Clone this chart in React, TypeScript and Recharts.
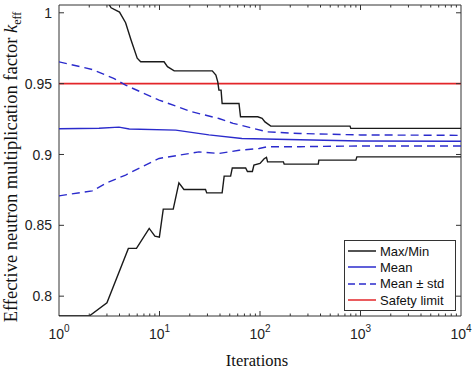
import { LineChart, Line, XAxis, YAxis, ReferenceLine, ReferenceArea, Legend } from "recharts"

// iterations (x) and k_eff values
const maxX = [1, 2.9, 3.3, 4.0, 4.6, 5.2, 6.0, 6.5, 11.1, 12, 14, 33.5, 36.4, 38, 39, 41, 42, 61.8, 64, 95, 105, 112, 128, 787, 800, 10000]
const maxK = [1.01, 1.01, 1.0035, 1.0005, 0.993, 0.981, 0.968, 0.9654, 0.9654, 0.962, 0.959, 0.959, 0.956, 0.9513, 0.9454, 0.9454, 0.936, 0.936, 0.9266, 0.9266, 0.9255, 0.923, 0.92, 0.92, 0.9184, 0.9184]

const minX = [1, 2.0, 3.0, 4.9, 5.9, 7.9, 9.0, 9.97, 10.9, 13.7, 15.6, 17.5, 28.7, 29.5, 42, 44, 51, 53, 72, 75, 84, 87, 100, 110, 116, 119, 171, 174, 380, 385, 900, 920, 10000]
const minK = [0.786, 0.786, 0.7953, 0.8337, 0.8337, 0.8478, 0.8424, 0.8417, 0.8614, 0.8614, 0.88, 0.8753, 0.8753, 0.8729, 0.8729, 0.8847, 0.8847, 0.8905, 0.8905, 0.888, 0.888, 0.8925, 0.8937, 0.897, 0.898, 0.8948, 0.8948, 0.8932, 0.8932, 0.896, 0.896, 0.8983, 0.8983]

const meanX = [1, 2.5, 3.95, 5, 14.5, 31, 66, 250, 1000, 10000]
const meanK = [0.9182, 0.9185, 0.9193, 0.918, 0.9172, 0.9138, 0.9113, 0.9104, 0.9095, 0.9093]

const upX = [1, 2.14, 3.5, 4.6, 9.9, 21, 39, 54, 117, 250, 1000, 10000]
const upK = [0.9654, 0.96, 0.9537, 0.9489, 0.9384, 0.9301, 0.9254, 0.922, 0.916, 0.9148, 0.9138, 0.9135]

const lowX = [1, 2.14, 3, 4.6, 9.9, 24.7, 39, 62, 98, 117, 250, 1000, 10000]
const lowK = [0.8708, 0.8743, 0.88, 0.8855, 0.8972, 0.9018, 0.9007, 0.903, 0.9042, 0.9054, 0.9055, 0.906, 0.906]

const SAFETY_LIMIT = 0.95

const decades = [1, 10, 100, 1000, 10000]
const yTicks = [0.8, 0.85, 0.9, 0.95, 1]
const legendNames = ["Max/Min", "Mean", "Mean \u00b1 std", "Safety limit"]

const X_DOMAIN = [1, 10000]
const Y_DOMAIN = [0.786, 1.0055]

const zip = (xs: number[], ks: number[]) => xs.map((x, i) => ({ x, k: ks[i] }))

const maxData = zip(maxX, maxK)
const minData = zip(minX, minK)
const meanData = zip(meanX, meanK)
const upData = zip(upX, upK)
const lowData = zip(lowX, lowK)

// minor ticks for the log axis
const xTicks = decades.flatMap((d) => (d < 10000 ? [d, 2, 3, 4, 5, 6, 7, 8, 9].map((m, i) => (i === 0 ? d : d * m)) : [d]))

const BLACK = "#1a1a1a"
const BLUE = "#2b2bcc"
const RED = "#e3262a"
const FRAME = "#333"
const SANS = "'Liberation Sans', Arial, sans-serif"
const SERIF = "'Liberation Serif', 'Times New Roman', serif"

const LEFT = 59
const RIGHT = 461
const TOP = 5
const BOTTOM = 316

function XTick(props: any) {
  const { x, payload } = props
  const v = payload.value as number
  const exp = Math.round(Math.log10(v))
  const major = Math.abs(Math.pow(10, exp) - v) < 1e-6
  const len = major ? 5 : 2.5
  const edge = v === 1 || v === 10000
  return (
    <g>
      {!edge && (
        <>
          <line x1={x} x2={x} y1={BOTTOM} y2={BOTTOM - len} stroke={FRAME} strokeWidth={1} />
          <line x1={x} x2={x} y1={TOP} y2={TOP + len} stroke={FRAME} strokeWidth={1} />
        </>
      )}
      {major && (
        <text x={x} y={339} textAnchor="middle" fontFamily={SANS} fontSize={14} fill="#222">
          <tspan>10</tspan>
          <tspan fontSize={10} dy={-7}>{exp}</tspan>
        </text>
      )}
    </g>
  )
}

function YTick(props: any) {
  const { y, payload } = props
  return (
    <g>
      <line x1={LEFT} x2={LEFT + 5} y1={y} y2={y} stroke={FRAME} strokeWidth={1} />
      <line x1={RIGHT - 5} x2={RIGHT} y1={y} y2={y} stroke={FRAME} strokeWidth={1} />
      <text x={LEFT - 7} y={y} dy="0.36em" textAnchor="end" fontFamily={SANS} fontSize={14} fill="#222">
        {payload.value}
      </text>
    </g>
  )
}

function LegendBox() {
  const styles = [
    { color: BLACK, dash: undefined },
    { color: BLUE, dash: undefined },
    { color: BLUE, dash: "7 4" },
    { color: RED, dash: undefined },
  ]
  return (
    <div
      style={{
        border: `1px solid ${FRAME}`,
        background: "white",
        width: 107,
        padding: "2px 0 2px 3px",
        fontFamily: SANS,
        fontSize: 13,
        color: "#111",
      }}
    >
      {legendNames.map((name, i) => (
        <div key={name} style={{ display: "flex", alignItems: "center", height: 16.3 }}>
          <svg width={28} height={6} style={{ marginRight: 4 }}>
            <line x1={0} x2={28} y1={3} y2={3} stroke={styles[i].color} strokeWidth={1.5} strokeDasharray={styles[i].dash} />
          </svg>
          <span>{name}</span>
        </div>
      ))}
    </div>
  )
}

export default function App() {
  return (
    <div style={{ position: "absolute", left: 0, top: 0, background: "white" }}>
      <LineChart width={474} height={369} margin={{ top: TOP, right: 474 - RIGHT, bottom: 0, left: 0 }}>
        <XAxis
          dataKey="x"
          type="number"
          scale="log"
          domain={X_DOMAIN}
          allowDataOverflow
          ticks={xTicks}
          interval={0}
          height={369 - BOTTOM}
          tick={<XTick />}
          tickLine={false}
          axisLine={false}
          label={() => (
            <text x={257} y={366} textAnchor="middle" fontFamily={SERIF} fontSize={16.5} fill="#111">
              Iterations
            </text>
          )}
        />
        <YAxis
          dataKey="k"
          type="number"
          domain={Y_DOMAIN}
          allowDataOverflow
          ticks={yTicks}
          interval={0}
          width={LEFT}
          tick={<YTick />}
          tickLine={false}
          axisLine={false}
          label={() => (
            <text transform="translate(17,167) rotate(-90)" textAnchor="middle" fontFamily={SERIF} fontSize={18.5} fill="#111">
              Effective neutron multiplication factor <tspan fontStyle="italic">k</tspan>
              <tspan fontSize={12} dy={4}>eff</tspan>
            </text>
          )}
        />
        <ReferenceArea x1={X_DOMAIN[0]} x2={X_DOMAIN[1]} y1={Y_DOMAIN[0]} y2={Y_DOMAIN[1]} fill="none" stroke={FRAME} strokeWidth={1} ifOverflow="visible" />
        <ReferenceLine y={SAFETY_LIMIT} stroke={RED} strokeWidth={1.6} />
        <Line data={maxData} dataKey="k" stroke={BLACK} strokeWidth={1.4} dot={false} activeDot={false} isAnimationActive={false} />
        <Line data={minData} dataKey="k" stroke={BLACK} strokeWidth={1.4} dot={false} activeDot={false} isAnimationActive={false} />
        <Line data={upData} dataKey="k" stroke={BLUE} strokeWidth={1.4} strokeDasharray="8 5" dot={false} activeDot={false} isAnimationActive={false} />
        <Line data={lowData} dataKey="k" stroke={BLUE} strokeWidth={1.4} strokeDasharray="8 5" dot={false} activeDot={false} isAnimationActive={false} />
        <Line data={meanData} dataKey="k" stroke={BLUE} strokeWidth={1.4} dot={false} activeDot={false} isAnimationActive={false} />
        <Legend
          layout="vertical"
          align="center"
          verticalAlign="middle"
          content={() => <LegendBox />}
          wrapperStyle={{ left: 344, top: 240, width: 110, height: 70 }}
        />
      </LineChart>
    </div>
  )
}
